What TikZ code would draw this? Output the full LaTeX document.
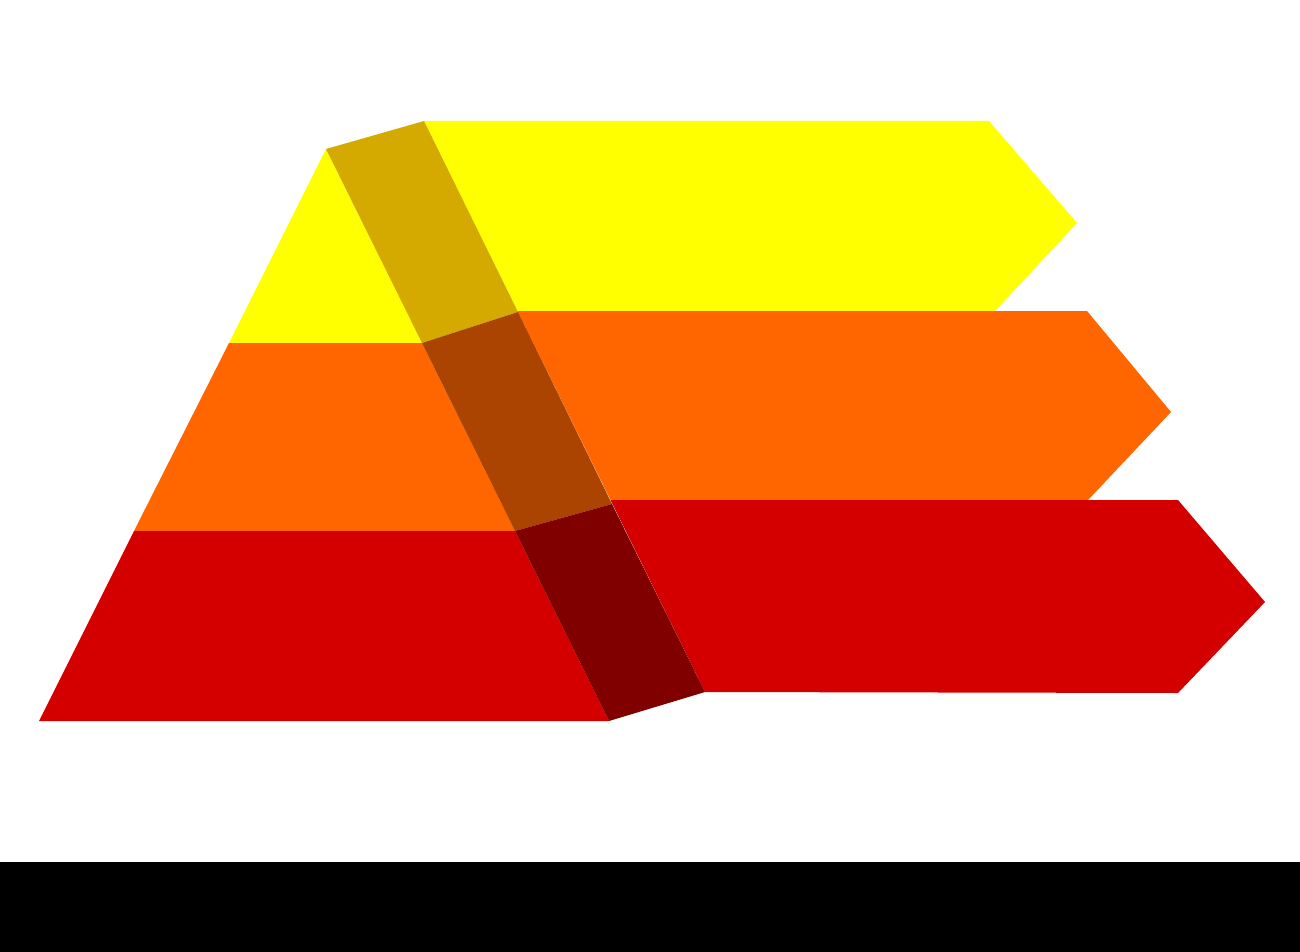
\documentclass[tikz,border=0pt]{standalone}
\definecolor{cyel}{HTML}{FFFF00}
\definecolor{corg}{HTML}{FF6600}
\definecolor{cred}{HTML}{D40000}
\definecolor{byel}{HTML}{D4AA00}
\definecolor{borg}{HTML}{AA4400}
\definecolor{bred}{HTML}{800000}
\tikzset{
  face/.style={draw=none},
  yface/.style={face, fill=cyel},
  oface/.style={face, fill=corg},
  rface/.style={face, fill=cred},
  yband/.style={face, fill=byel},
  oband/.style={face, fill=borg},
  rband/.style={face, fill=bred}
}
\begin{document}
\begin{tikzpicture}[x=1pt,y=-1pt]
\useasboundingbox (0,0) rectangle (1300,952);
\fill[white] (0,0) rectangle (1300,952);
% key points
\coordinate (A) at (326,149);
\coordinate (BL) at (39,721);
\coordinate (BR) at (609,721);
\coordinate (L1) at (229,343);
\coordinate (L2) at (134,531);
\coordinate (P1) at (422,343);
\coordinate (P2) at (515,531);
\coordinate (T) at (424,121);
\coordinate (Q1) at (518,312);
\coordinate (Q2) at (612,504);
\coordinate (BB) at (705,692);
% arrows
\fill[yface] (T) -- (989,121) -- (1077,223) -- (995,311) -- (517.5,311) -- cycle;
\fill[oface] (517.5,311) -- (1087,311) -- (1171,412) -- (1088,500) -- (610.5,500) -- cycle;
\fill[rface] (610.5,500) -- (1178,500) -- (1265,602) -- (1178,693) -- (BB) -- cycle;
% front face
\fill[yface] (A) -- (P1) -- (L1) -- cycle;
\fill[oface] (L1) -- (P1) -- (P2) -- (L2) -- cycle;
\fill[rface] (L2) -- (P2) -- (BR) -- (BL) -- cycle;
% side band
\fill[yband] (A) -- (T) -- (Q1) -- (P1) -- cycle;
\fill[oband] (P1) -- (Q1) -- (Q2) -- (P2) -- cycle;
\fill[rband] (P2) -- (Q2) -- (BB) -- (BR) -- cycle;
% bottom bar
\fill[black] (0,862) rectangle (1300,952);
\end{tikzpicture}
\end{document}
